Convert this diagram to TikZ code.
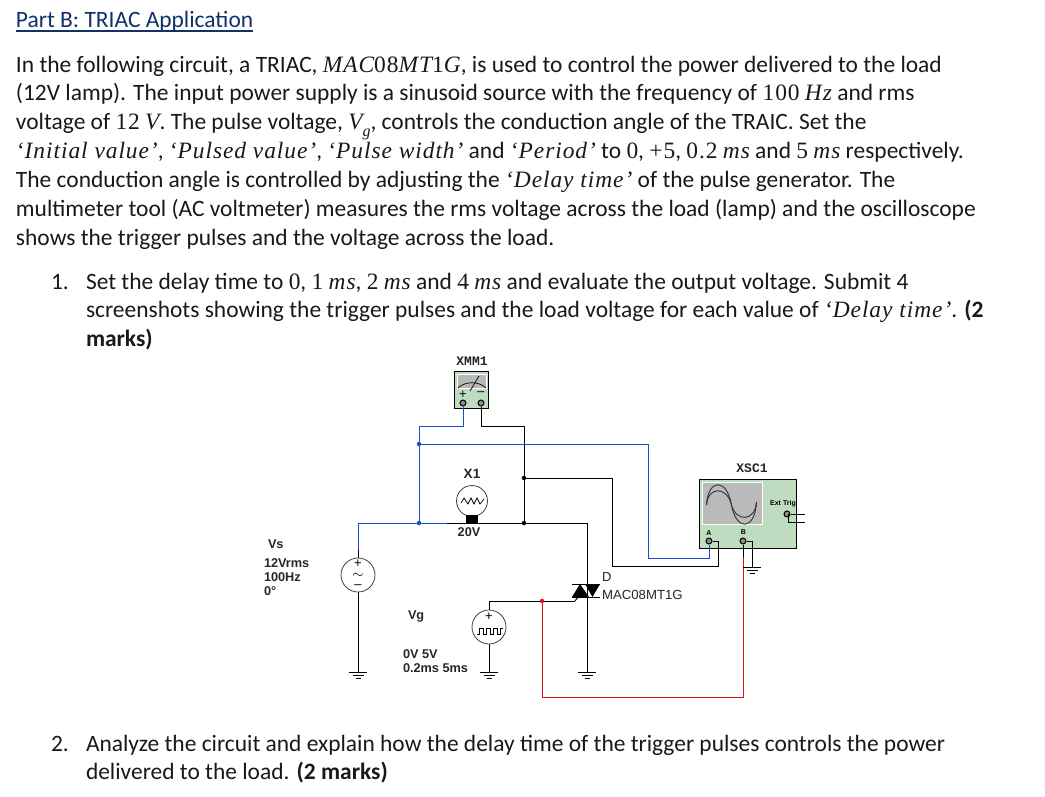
\documentclass[tikz,border=0pt]{standalone}
\usepackage{fontspec}
\setmainfont{Carlito}
\newfontfamily\mfam[LetterSpace=4]{Liberation Serif}
\newfontfamily\arl{Liberation Sans}
\newfontfamily\crr{Liberation Mono}
\newcommand{\mi}[1]{{\mfam\itshape #1}}
\newcommand{\mr}[1]{{\mfam #1}}
\definecolor{scopeg}{HTML}{BFDCC0}
\definecolor{tit}{HTML}{12306A}
\definecolor{wblue}{HTML}{1450D0}
\definecolor{wred}{HTML}{E01020}
\tikzset{
 body/.style={anchor=base west,inner sep=0pt,outer sep=0pt,font=\fontsize{23.45}{23.45}\selectfont,text=black!90},
 lab/.style={anchor=base west,inner sep=0pt,outer sep=0pt,font=\arl\fontsize{12.7}{12.7}\selectfont\bfseries,text=black!85},
 mono/.style={anchor=base,inner sep=0pt,outer sep=0pt,font=\crr\fontsize{13}{13}\selectfont\bfseries,text=black!85},
 wk/.style={draw=black,line width=1pt},
 wb/.style={draw=wblue,line width=1pt},
 wr/.style={draw=wred,line width=1pt},
 jk/.style={circle,fill=black,inner sep=0pt,minimum size=4.5pt},
 jb/.style={circle,fill=wblue,inner sep=0pt,minimum size=4.5pt},
 jr/.style={circle,fill=wred,inner sep=0pt,minimum size=4.5pt},
 inst/.style={draw=black,line width=1pt,fill=scopeg,inner sep=0pt},
 term/.style={circle,draw=black,fill=black!45,line width=1pt,inner sep=0pt,minimum size=6pt},
 src/.style={circle,draw=black!75,fill=white,line width=.8pt,inner sep=0pt,minimum size=34pt},
 sym/.style={inner sep=0pt,font=\arl\fontsize{13}{13}\selectfont},
 gnd/.pic={\draw[line width=1pt] (-9,0)--(9,0) (-5.5,3)--(5.5,3) (-2.5,6)--(2.5,6);},
}
\begin{document}
\begin{tikzpicture}[x=1pt,y=-1pt]
\useasboundingbox (0,0) rectangle (1045,796);
\fill[white] (0,0) rectangle (1045,796);
% text
\node[body,text=tit] (t0) at (16,27) {Part B: TRIAC Application};
\draw[tit,line width=1.3pt] (16,31) -- (253,31);
\node[body] (t1) at (16,72) {In the following circuit, a TRIAC, \mi{MAC}\mr{08}\mi{MT}\mr{1}\mi{G}, is used to control the power delivered to the load};
\node[body] (t2) at (16,100.5) {(12V lamp). The input power supply is a sinusoid source with the frequency of \mr{100} \mi{Hz} and rms};
\node[body] (t3) at (16,129.5) {voltage of \mr{12} \mi{V}. The pulse voltage, \mi{V\raisebox{-.3em}{\fontsize{16}{16}\selectfont g}}, controls the conduction angle of the TRAIC. Set the};
\node[body] (t4) at (16,158.5) {\mi{‘Initial value’}, \mi{‘Pulsed value’}, \mi{‘Pulse width’} and \mi{‘Period’} to \mr{0}, \mr{+5}, \mr{0.2} \mi{ms} and \mr{5} \mi{ms} respectively.};
\node[body] (t5) at (16,187.5) {The conduction angle is controlled by adjusting the \mi{‘Delay time’} of the pulse generator. The};
\node[body] (t6) at (16,216) {multimeter tool (AC voltmeter) measures the rms voltage across the load (lamp) and the oscilloscope};
\node[body] (t7) at (16,245) {shows the trigger pulses and the voltage across the load.};
\node[body] (n1) at (51,289) {1.};
\node[body] (t8) at (86,289) {Set the delay time to \mr{0}, \mr{1} \mi{ms}, \mr{2} \mi{ms} and \mr{4} \mi{ms} and evaluate the output voltage. Submit 4};
\node[body] (t9) at (86,317.5) {screenshots showing the trigger pulses and the load voltage for each value of \mi{‘Delay time’}. \textbf{(2}};
\node[body] (t10) at (86,346) {\textbf{marks)}};
\node[body] (n2) at (51,751) {2.};
\node[body] (t11) at (86,751) {Analyze the circuit and explain how the delay time of the trigger pulses controls the power};
\node[body] (t12) at (86,779) {delivered to the load. \textbf{(2 marks)}};
% coordinates
\coordinate (vstop) at (358,550);
\coordinate (vsj) at (358,523);
\coordinate (bl) at (419,523);
\coordinate (bj) at (419,444);
\coordinate (bt) at (419,426);
\coordinate (bend) at (447,523);
\coordinate (mr) at (524,426);
\coordinate (jr1) at (524,478);
\coordinate (jr2) at (524,523);
\coordinate (tr) at (587,523);
\coordinate (gtop) at (489,601);
\coordinate (gj) at (542,601);
\coordinate (gate) at (575,601);
% instruments
\node[inst,minimum width=34pt,minimum height=37pt] (xmm) at (471,389.5) {};
\fill[white] (457,374) rectangle (487,389);
\fill[black!28] (458,375) rectangle (486,388);
\draw[line width=.7pt] (458,388) .. controls (465,381) and (479,381) .. (486,388);
\draw[line width=.7pt] (470,391) -- (479,376);
\node[sym] (mplus) at (463,394.5) {+};
\node[sym] (mminus) at (481,394) {–};
\node[term] (mp) at (463,403) {};
\node[term] (mm) at (481,403) {};
\node[inst,minimum width=97pt,minimum height=69pt] (xsc) at (747.5,513.5) {};
\fill[white] (702,482) rectangle (763,525);
\fill[black!27] (703,483) rectangle (762,524);
\draw[line width=.9pt,black!80] (706.5,505) .. controls (708,478) and (727,478) .. (731.5,505) .. controls (736,531) and (755,531) .. (756.5,502);
\draw[line width=.9pt,black!80] (706.5,505) .. controls (708,486) and (727,486) .. (731.5,505) .. controls (736,522) and (755,522) .. (756.5,502);
\node[inner sep=0pt,font=\arl\fontsize{7}{7}\selectfont\bfseries] (lA) at (709,533) {A};
\node[inner sep=0pt,font=\arl\fontsize{7}{7}\selectfont\bfseries] (lB) at (743.5,532) {B};
\node[inner sep=0pt,font=\arl\fontsize{7}{7}\selectfont\bfseries] (lT) at (783,504) {Ext Trig};
\node[term] (ta) at (709,541) {};
\node[term] (tb) at (743,541) {};
\node[term] (tt) at (787,514) {};
\coordinate (tam) at (718,541);
\coordinate (tbm) at (752,541);
\coordinate (tbr) at (743,557);
\coordinate (tbg) at (752,567);
\coordinate (xa) at (805,514);
\coordinate (xb0) at (788,522);
\coordinate (xb) at (805,522);
% wires
\draw[wb] (vstop) -- (vsj) -- (bend);
\draw[wb] (mp) |- (bt) -- (bl);
\draw[wb] (bj) -- (648,444) |- (709,558) -- (ta);
\draw[wk] (mm) |- (mr) -- (jr2);
\draw[wk] (bend) -- (tr);
\draw[wk] (jr1) -- (612,478) |- (718,566) -- (tam) -- (ta);
\draw[wk] (tr) -- (587,672);
\draw[wk] (gtop) -- (gate);
\draw[wk] (358,575) -- (vstop);
\draw[wk] (358,575) -- (358,672);
\draw[wk] (489,627) -- (gtop);
\draw[wk] (489,627) -- (489,672);
\draw[wr] (gj) |- (743,697) -- (tbr);
\draw[wk] (tbr) -- (tb);
\draw[wk] (tb) -- (tbm) -- (tbg);
\draw[wk] (tt) -- (xa);
\draw[wk] (xb0) -- (xb);
\draw[wk] (788,514) -- (xb0);
\node[jb] (d1) at (bj) {};
\node[jb] (d2) at (bl) {};
\node[jk] (d3) at (jr1) {};
\node[jk] (d4) at (jr2) {};
\node[jr] (d5) at (gj) {};
% grounds
\pic at (358,672) {gnd};
\pic at (489,672) {gnd};
\pic at (587,672) {gnd};
\pic at (752,567) {gnd};
% sources
\node[src] (vs) at (358,575) {};
\node[sym] (vsp) at (358,563.5) {+};
\node[sym,font=\fontsize{15}{15}\selectfont] (vsw) at (358,575.5) {$\sim$};
\node[sym] (vsm) at (358,587) {–};
\node[src] (vg) at (489,627) {};
\node[sym] (vgp) at (489,616.5) {+};
\draw[line width=.8pt] (477,634) -- (479,634) -- (479,628) -- (483,628) -- (483,634) -- (486,634) -- (486,628) -- (490,628) -- (490,634) -- (493,634) -- (493,628) -- (497,628) -- (497,634) -- (500,634) -- (500,628) -- (503,628);
% lamp
\node[circle,draw=black!75,fill=white,line width=.8pt,inner sep=0pt,minimum size=31pt] (x1) at (472,501) {};
\draw[line width=.7pt] (461,503) -- (464,498) -- (468,504) -- (471,498) -- (474,504) -- (477,498) -- (480,504) -- (484,499);
\fill[black] (466,515) rectangle (478,523);
% triac
\fill[black] (572,597) -- (580,584) -- (589,597) -- cycle;
\fill[black] (585,584) -- (600,584) -- (592.5,597) -- cycle;
\draw[line width=1pt] (572,584) -- (600,584);
\draw[line width=1pt] (572,597) -- (600,597);
\draw[line width=1pt] (575,601) -- (578,597);
% labels
\node[mono] (lxmm) at (472,365) {XMM1};
\node[mono] (lxsc) at (752,472) {XSC1};
\node[lab,anchor=base,font=\arl\fontsize{13.5}{13.5}\selectfont\bfseries] (lx1) at (472,478.5) {X1};
\node[lab,anchor=base] (l20) at (469,536) {20V};
\node[lab] (lvs) at (268,548) {Vs};
\node[lab] (lv1) at (264,567) {12Vrms};
\node[lab] (lv2) at (264,581) {100Hz};
\node[lab] (lv3) at (264,595) {0°};
\node[lab] (lvg) at (408,619) {Vg};
\node[lab] (lg1) at (403,658) {0V 5V};
\node[lab] (lg2) at (403,672) {0.2ms 5ms};
\node[lab,font=\arl\fontsize{13}{13}\selectfont] (ld) at (602,581) {D};
\node[lab,font=\arl\fontsize{13.2}{13.2}\selectfont] (lm) at (602,599) {MAC08MT1G};
\end{tikzpicture}
\end{document}
